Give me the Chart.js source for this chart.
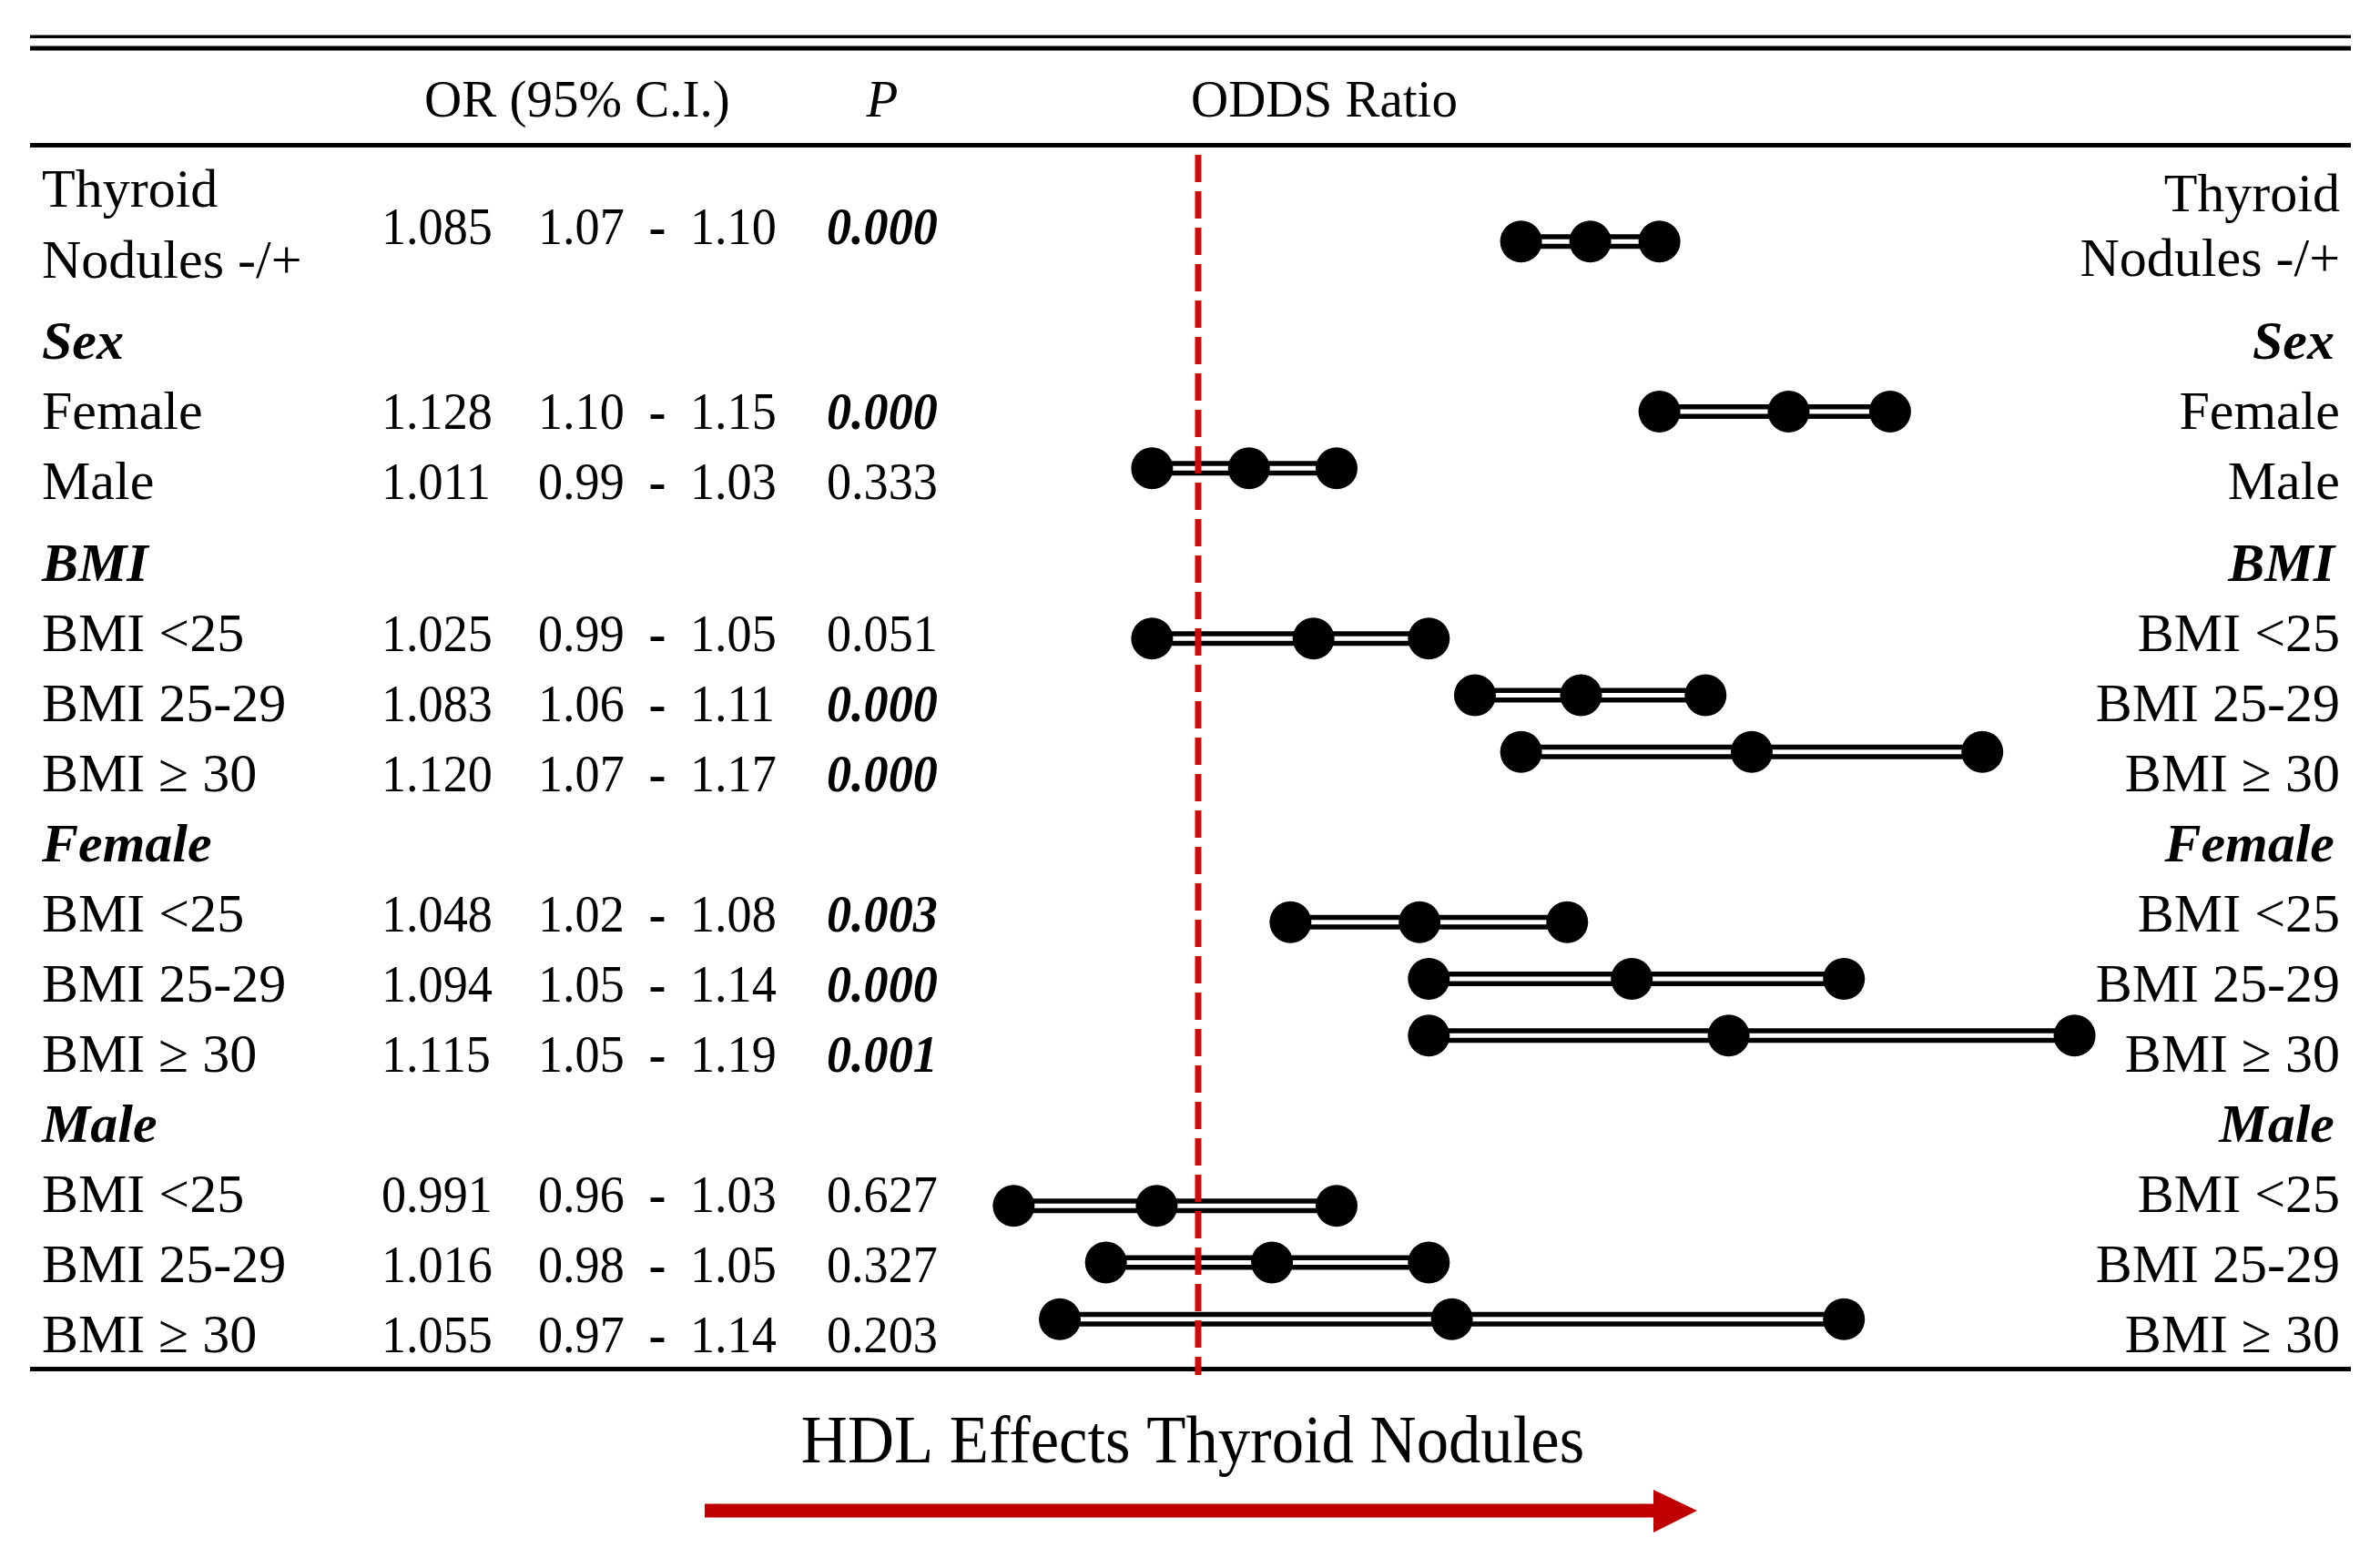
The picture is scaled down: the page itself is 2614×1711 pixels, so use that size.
<!DOCTYPE html>
<html>
<head>
<meta charset="utf-8">
<script src="https://cdn.jsdelivr.net/npm/chart.js@4.4.1/dist/chart.umd.min.js"></script>
<style>
  html, body { margin: 0; padding: 0; background: #ffffff; }
  canvas { display: block; }
</style>
</head>
<body>
<canvas id="c" width="2614" height="1711" style="width:2614px;height:1711px"></canvas>
<script>
const sections   = ['', 'Sex', 'BMI', 'Female', 'Male'];
const rowSection = [0, 1, 1, 2, 2, 2, 3, 3, 3, 4, 4, 4];
const rowLabels  = ['Thyroid\nNodules -/+', 'Female', 'Male',
                    'BMI <25', 'BMI 25-29', 'BMI \u2265 30',
                    'BMI <25', 'BMI 25-29', 'BMI \u2265 30',
                    'BMI <25', 'BMI 25-29', 'BMI \u2265 30'];
const orValue = [1.085, 1.128, 1.011, 1.025, 1.083, 1.120, 1.048, 1.094, 1.115, 0.991, 1.016, 1.055];
const ciLow   = [1.07, 1.10, 0.99, 0.99, 1.06, 1.07, 1.02, 1.05, 1.05, 0.96, 0.98, 0.97];
const ciHigh  = [1.10, 1.15, 1.03, 1.05, 1.11, 1.17, 1.08, 1.14, 1.19, 1.03, 1.05, 1.14];
const pValue  = [0.000, 0.000, 0.333, 0.051, 0.000, 0.000, 0.003, 0.000, 0.001, 0.627, 0.327, 0.203];
const headerLabels = ['OR (95% C.I.)', 'P', 'ODDS Ratio'];
const titleText = 'HDL Effects Thyroid Nodules';
const refValue = 1;
const sigLevel = 0.05;

// ---------------- LAYOUT / STYLE ----------------
const SERIF = '"Liberation Serif", "Times New Roman", "DejaVu Serif", serif';
const F_LABEL   = '60px ' + SERIF;
const F_SECTION = 'italic bold 60px ' + SERIF;
const F_NUM     = '57px ' + SERIF;
const F_NUM_SIG = 'italic bold 57px ' + SERIF;
const F_HEAD    = '57px ' + SERIF;
const F_HEAD_P  = 'italic 57px ' + SERIF;
const F_TITLE   = '74px ' + SERIF;
const NUM_SX = 0.95;
const sectionExtraGap = [0, 0, 13, 0, 0];
const slotGapPerSection = 2;

// marker slots derived from row order and sections
const slots = rowSection.map((s, i) => i + slotGapPerSection * s);
const nSlots = slots[slots.length - 1] + 1;

// ---------------- DATASETS ----------------
const datasets = [];
const pts = [];
for (let i = 0; i < orValue.length; i++) {
  const seg = [{x: ciLow[i], y: slots[i]}, {x: ciHigh[i], y: slots[i]}];
  datasets.push({data: seg, showLine: true, borderColor: '#000', borderWidth: 16,
                 pointRadius: 0, order: 3, clip: false});
  datasets.push({data: seg, showLine: true, borderColor: '#fff', borderWidth: 5,
                 pointRadius: 0, order: 2, clip: false});
  pts.push({x: ciLow[i], y: slots[i]}, {x: orValue[i], y: slots[i]}, {x: ciHigh[i], y: slots[i]});
}
datasets.push({data: pts, showLine: false, pointRadius: 23, pointBackgroundColor: '#000',
               pointBorderWidth: 0, pointBorderColor: '#000', order: 1, clip: false});

function txt(ctx, s, x, y, font, align, sx) {
  ctx.save();
  ctx.font = font;
  ctx.fillStyle = '#000';
  ctx.textBaseline = 'alphabetic';
  ctx.textAlign = align || 'left';
  ctx.translate(x, y);
  ctx.scale(sx || 1, 1);
  ctx.fillText(s, 0, 0);
  ctx.restore();
}

const tablePlugin = {
  id: 'tablePlugin',
  beforeDatasetsDraw(chart) {
    const ctx = chart.ctx;
    ctx.save();
    ctx.fillStyle = '#000';
    ctx.fillRect(33, 38.5, 2549, 3.5);
    ctx.fillRect(33, 50.5, 2549, 5);
    ctx.fillRect(33, 157, 2549, 5);
    ctx.fillRect(33, 1501, 2549, 5);
    ctx.restore();
  },
  afterDatasetsDraw(chart) {
    const ctx = chart.ctx;
    const x = chart.scales.x.getPixelForValue(refValue);
    ctx.save();
    ctx.strokeStyle = '#d00a0a';
    ctx.lineWidth = 7;
    ctx.setLineDash([30, 10]);
    ctx.beginPath();
    ctx.moveTo(x, 170);
    ctx.lineTo(x, 1510);
    ctx.stroke();
    ctx.restore();
  },
  afterDraw(chart) {
    const ctx = chart.ctx;
    // header
    txt(ctx, headerLabels[0], 466, 128, F_HEAD, 'left');
    txt(ctx, headerLabels[1], 969, 128, F_HEAD_P, 'center');
    txt(ctx, headerLabels[2], 1308, 128, F_HEAD, 'left');

    const leftX = 46, rightX = 2570;
    const orX = 419, loX = 591, dashX = 722, hiX = 758, pX = 908;
    const drawNums = (i, y) => {
      txt(ctx, orValue[i].toFixed(3), orX, y, F_NUM, 'left', NUM_SX);
      txt(ctx, ciLow[i].toFixed(2), loX, y, F_NUM, 'left', NUM_SX);
      txt(ctx, '-', dashX, y, 'bold 57px ' + SERIF, 'center');
      txt(ctx, ciHigh[i].toFixed(2), hiX, y, F_NUM, 'left', NUM_SX);
      txt(ctx, pValue[i].toFixed(3), pX, y, pValue[i] < sigLevel ? F_NUM_SIG : F_NUM, 'left', NUM_SX);
    };

    // first (two-line) row
    const firstLines = rowLabels[0].split('\n');
    txt(ctx, firstLines[0], leftX, 227, F_LABEL, 'left');
    txt(ctx, firstLines[1], leftX, 305, F_LABEL, 'left');
    txt(ctx, firstLines[0], rightX, 232, F_LABEL, 'right');
    txt(ctx, firstLines[1], rightX, 303, F_LABEL, 'right');
    drawNums(0, 268);

    // remaining rows with section headers
    let y = 394, extra = 0, prevSec = rowSection[0], k = 0;
    for (let i = 1; i < orValue.length; i++) {
      if (rowSection[i] !== prevSec) {
        prevSec = rowSection[i];
        extra += sectionExtraGap[prevSec];
        const yy = y + k * 77 + extra;
        txt(ctx, sections[prevSec], leftX, yy, F_SECTION, 'left');
        txt(ctx, sections[prevSec], rightX - 6, yy, F_SECTION, 'right');
        k++;
      }
      const yy = y + k * 77 + extra;
      txt(ctx, rowLabels[i], leftX, yy, F_LABEL, 'left');
      txt(ctx, rowLabels[i], rightX, yy, F_LABEL, 'right');
      drawNums(i, yy);
      k++;
    }

    // title + arrow
    txt(ctx, titleText, 1310, 1606, F_TITLE, 'center', 0.955);
    ctx.save();
    ctx.fillStyle = '#c00000';
    ctx.fillRect(774, 1651.5, 1046, 15);
    ctx.beginPath();
    ctx.moveTo(1816, 1636);
    ctx.lineTo(1864, 1659);
    ctx.lineTo(1816, 1683);
    ctx.closePath();
    ctx.fill();
    ctx.restore();
  }
};

const xMin = 0.9, xMax = 1.25;
new Chart(document.getElementById('c'), {
  type: 'scatter',
  data: { datasets },
  options: {
    responsive: false,
    devicePixelRatio: 1,
    animation: false,
    events: [],
    layout: { padding: { left: 809.4, right: 31.5, top: 234, bottom: 231 } },
    scales: {
      x: { type: 'linear', min: xMin, max: xMax, display: false },
      y: { type: 'linear', min: -0.5, max: nSlots - 0.5, reverse: true, display: false }
    },
    plugins: { legend: { display: false }, tooltip: { enabled: false }, title: { display: false } }
  },
  plugins: [tablePlugin]
});
</script>
</body>
</html>
